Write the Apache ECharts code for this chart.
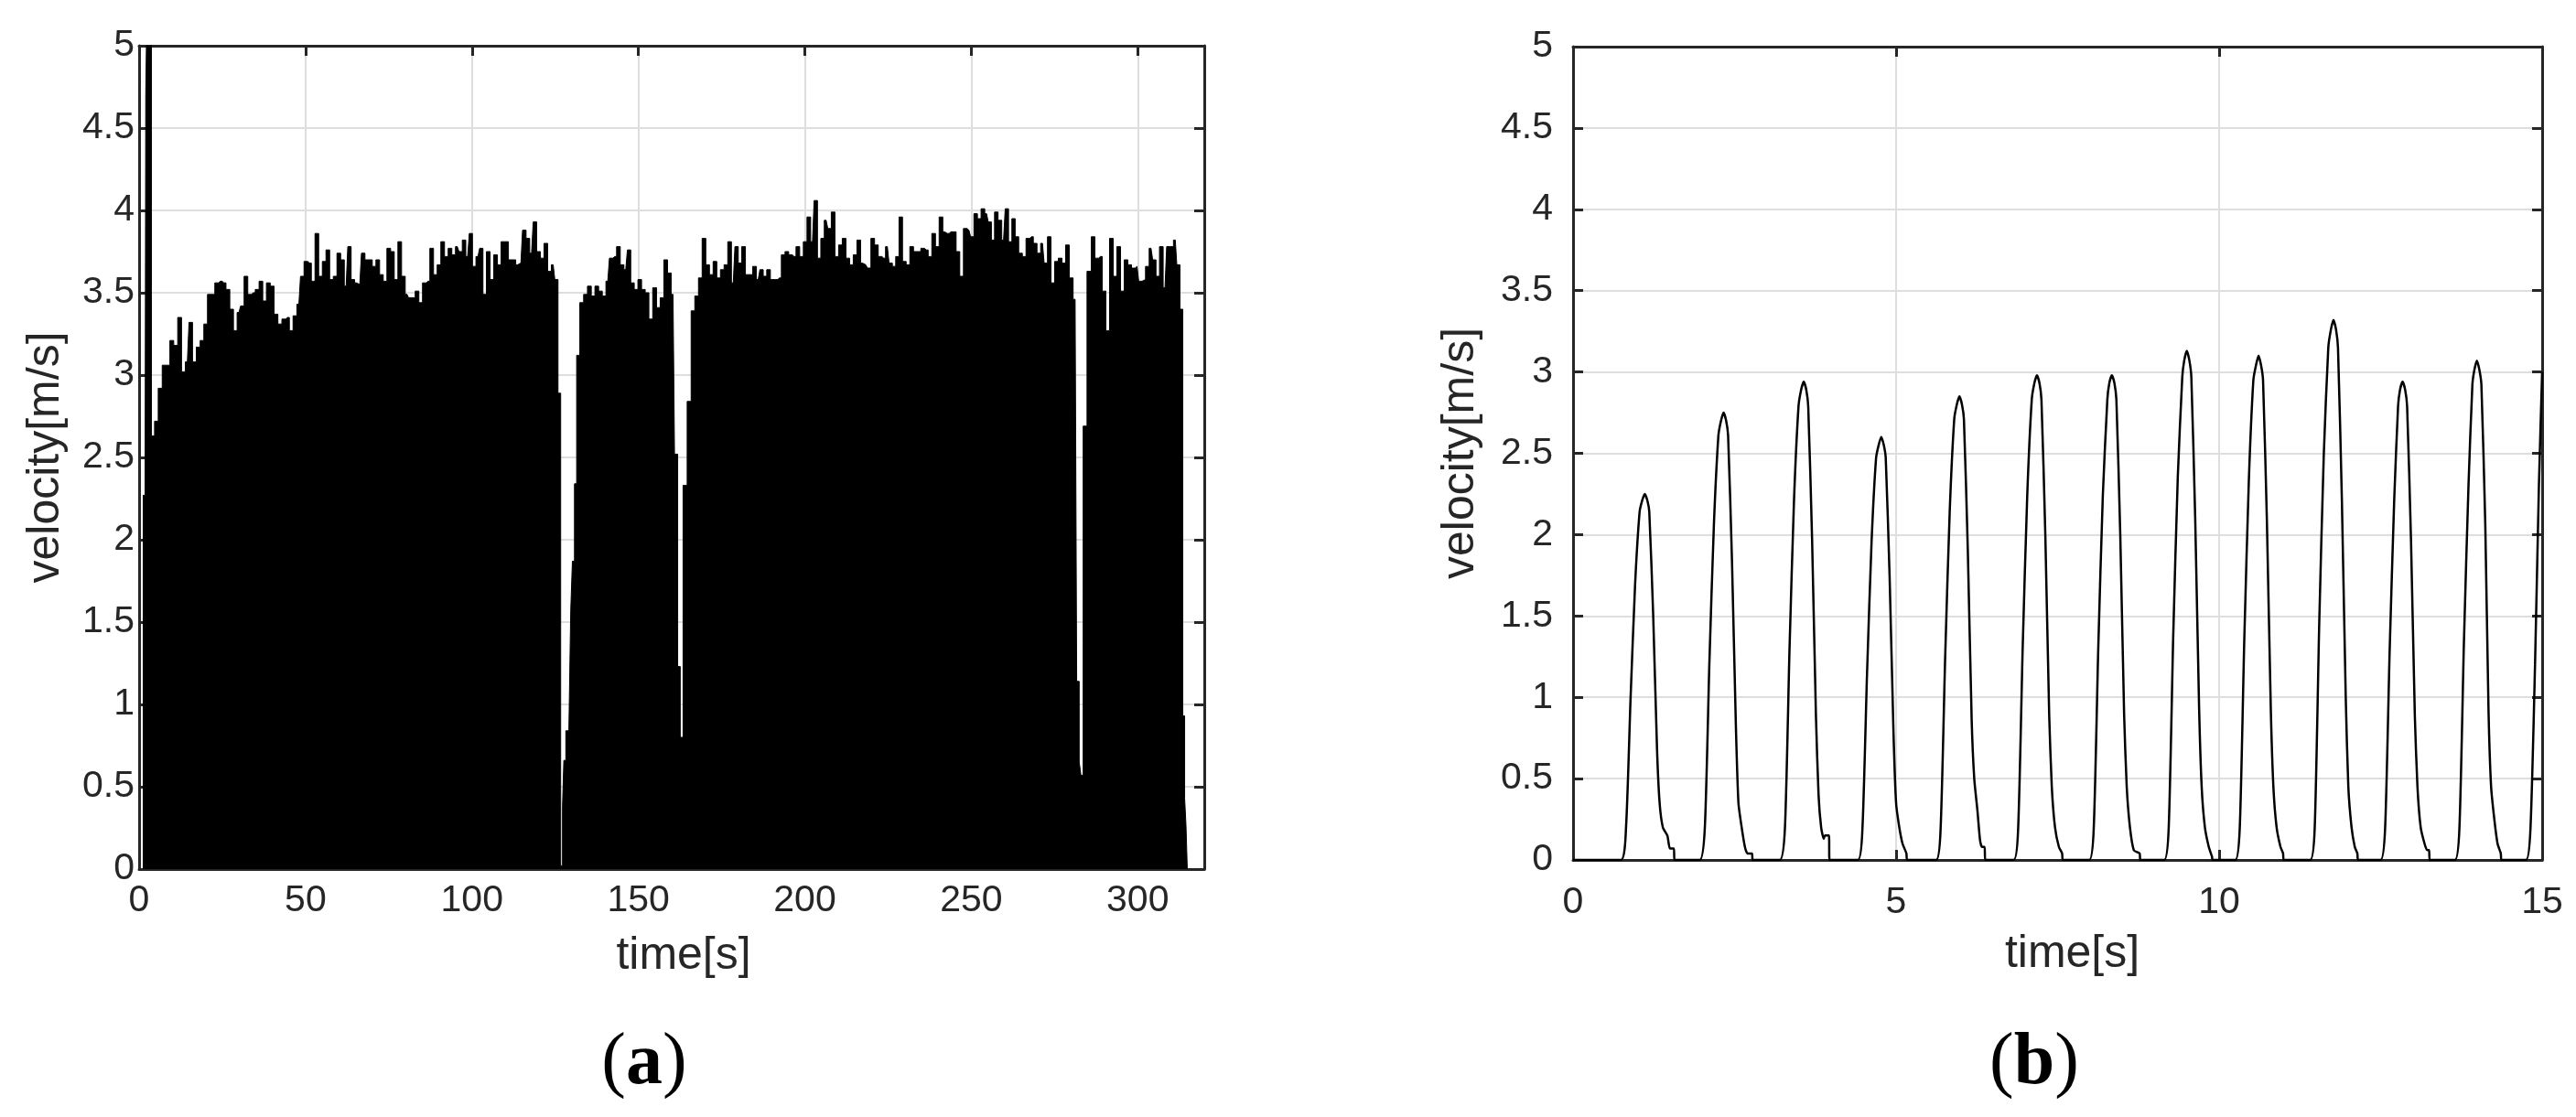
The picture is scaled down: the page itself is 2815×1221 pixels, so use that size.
<!DOCTYPE html>
<html>
<head>
<meta charset="utf-8">
<title>velocity</title>
<script src="https://cdn.jsdelivr.net/npm/echarts@6/dist/echarts.min.js"></script>
<style>
  html, body { margin: 0; background: #fff; }
  #chart { width: 2815px; height: 1221px; }
</style>
</head>
<body>
<div id="chart"></div>
<script>
// (a) whole run: one sample per stride peak (plus the stops)
const aTime = [
  1.1, 1.8, 2.2, 2.7, 3.3, 4.1, 5.2, 6.3, 7.6, 8.7,
  9.8, 11.0, 12.2, 13.3, 14.5, 15.5, 16.6, 17.8, 18.9, 20.0,
  21.1, 22.2, 23.3, 24.4, 25.5, 26.7, 27.8, 28.9, 30.0, 31.0,
  32.1, 33.2, 34.3, 35.5, 36.6, 37.7, 38.8, 40.0, 41.1, 42.3,
  43.5, 44.6, 45.7, 46.8, 48.0, 49.0, 50.1, 51.2, 52.3, 53.4,
  54.5, 55.6, 56.7, 57.8, 58.9, 60.0, 61.1, 62.2, 63.2, 64.2,
  65.3, 66.3, 67.3, 68.4, 69.5, 70.6, 71.7, 72.8, 73.9, 75.0,
  76.1, 77.2, 78.3, 79.4, 80.5, 81.4, 82.4, 83.5, 84.6, 85.7,
  86.8, 87.9, 89.0, 90.1, 91.2, 92.3, 93.4, 94.5, 95.6, 96.6,
  97.6, 98.7, 99.7, 100.6, 101.8, 102.8, 103.8, 104.9, 106.0, 107.1,
  108.2, 109.3, 110.4, 111.5, 112.6, 113.7, 114.7, 115.7, 116.8, 117.9,
  118.9, 120.0, 121.1, 122.2, 123.3, 124.4, 125.4, 126.3, 127.0, 127.4,
  127.8, 128.6, 129.5, 129.85, 130.5, 131.1, 131.8, 133.0, 134.1, 135.3,
  136.4, 137.5, 138.6, 139.7, 140.8, 141.8, 142.9, 144.0, 145.1, 146.2,
  147.2, 148.2, 149.3, 150.4, 151.5, 152.6, 153.7, 154.9, 156.0, 157.1,
  158.2, 159.3, 160.4, 161.3, 162.3, 162.85, 164.0, 165.3, 166.4, 167.5,
  168.6, 169.7, 170.8, 171.9, 173.0, 174.1, 175.2, 176.3, 177.4, 178.5,
  179.5, 180.5, 181.6, 182.7, 183.8, 184.9, 186.0, 187.0, 188.0, 189.1,
  190.2, 191.3, 192.4, 193.5, 194.6, 195.7, 196.8, 197.9, 199.0, 200.1,
  201.2, 202.3, 203.3, 204.3, 205.3, 206.4, 207.4, 208.5, 209.6, 210.7,
  211.8, 212.9, 214.0, 215.1, 216.2, 217.3, 218.3, 219.3, 220.4, 221.5,
  222.6, 223.7, 224.8, 225.8, 226.8, 227.8, 228.8, 229.9, 231.0, 232.1,
  233.2, 234.3, 235.4, 236.5, 237.6, 238.7, 239.8, 240.9, 242.0, 242.8,
  243.9, 244.9, 246.0, 247.1, 248.2, 249.3, 250.3, 251.3, 252.4, 253.5,
  254.6, 255.6, 256.5, 257.5, 258.6, 259.7, 260.7, 261.7, 262.7, 263.7,
  264.8, 265.9, 267.0, 268.1, 269.2, 270.3, 271.4, 272.4, 273.4, 274.5,
  275.6, 276.7, 277.8, 278.9, 280.0, 281.2, 282.15, 282.7, 283.2, 284.05,
  285.5, 286.6, 287.7, 288.8, 289.9, 291.0, 292.1, 293.2, 294.3, 295.4,
  296.5, 297.6, 298.7, 299.8, 300.8, 301.8, 302.9, 304.0, 305.0, 306.0,
  307.1, 308.2, 309.2, 310.2, 311.3, 312.2, 313.2, 313.9, 314.3, 314.7,
  315.1
]
const aVelocity = [
  2.27, 2.27, 4.7, 5.4, 5.4, 2.63, 2.72, 2.92, 3.06, 3.06,
  3.21, 3.18, 3.35, 3.02, 3.08, 3.32, 3.08, 3.17, 3.21, 3.31,
  3.49, 3.49, 3.56, 3.57, 3.56, 3.52, 3.40, 3.27, 3.38, 3.42,
  3.60, 3.49, 3.50, 3.52, 3.57, 3.45, 3.56, 3.54, 3.37, 3.31,
  3.34, 3.35, 3.27, 3.36, 3.43, 3.60, 3.69, 3.68, 3.57, 3.86,
  3.60, 3.69, 3.76, 3.58, 3.60, 3.74, 3.70, 3.54, 3.78, 3.58,
  3.56, 3.55, 3.74, 3.70, 3.70, 3.66, 3.70, 3.61, 3.57, 3.77,
  3.75, 3.58, 3.81, 3.60, 3.49, 3.47, 3.47, 3.51, 3.44, 3.56,
  3.57, 3.77, 3.61, 3.67, 3.81, 3.72, 3.77, 3.73, 3.78, 3.75,
  3.82, 3.72, 3.86, 3.66, 3.72, 3.77, 3.49, 3.75, 3.58, 3.73,
  3.67, 3.81, 3.81, 3.70, 3.70, 3.67, 3.68, 3.88, 3.83, 3.74,
  3.93, 3.75, 3.71, 3.80, 3.63, 3.67, 3.58, 2.89, 0.02, 0.38,
  0.66, 0.84, 0.76, 1.57, 1.87, 2.34, 3.12, 3.44, 3.49, 3.54,
  3.48, 3.54, 3.51, 3.48, 3.57, 3.71, 3.72, 3.78, 3.67, 3.64,
  3.76, 3.56, 3.52, 3.58, 3.52, 3.50, 3.34, 3.53, 3.41, 3.47,
  3.70, 3.62, 3.49, 2.52, 1.23, 0.80, 2.33, 2.84, 3.39, 3.48,
  3.59, 3.83, 3.67, 3.61, 3.69, 3.59, 3.64, 3.67, 3.81, 3.56,
  3.78, 3.68, 3.78, 3.61, 3.61, 3.66, 3.58, 3.64, 3.60, 3.64,
  3.58, 3.58, 3.59, 3.73, 3.75, 3.73, 3.72, 3.78, 3.72, 3.81,
  3.96, 3.81, 4.06, 3.71, 3.83, 3.94, 3.89, 3.99, 3.72, 3.79,
  3.83, 3.71, 3.67, 3.73, 3.82, 3.68, 3.67, 3.65, 3.83, 3.79,
  3.72, 3.71, 3.78, 3.68, 3.66, 3.72, 3.96, 3.69, 3.67, 3.78,
  3.75, 3.75, 3.77, 3.76, 3.72, 3.86, 3.78, 3.96, 3.87, 3.86,
  3.87, 3.87, 3.75, 3.60, 3.89, 3.88, 3.84, 3.98, 3.95, 4.01,
  3.98, 3.93, 3.82, 3.99, 3.94, 3.82, 4.01, 3.81, 3.95, 3.84,
  3.74, 3.72, 3.83, 3.84, 3.80, 3.74, 3.80, 3.68, 3.84, 3.56,
  3.69, 3.71, 3.68, 3.79, 3.59, 3.46, 1.14, 0.65, 0.57, 2.69,
  3.63, 3.84, 3.71, 3.72, 3.51, 3.27, 3.83, 3.60, 3.78, 3.51,
  3.70, 3.67, 3.65, 3.66, 3.57, 3.58, 3.66, 3.77, 3.70, 3.60,
  3.78, 3.53, 3.78, 3.78, 3.82, 3.67, 3.40, 0.93, 0.43, 0.27,
  0
]

// (b) first 15 s, one row per stride
const bTime = [
  0,
  0.74, 0.82, 0.89, 0.96, 1.03, 1.07, 1.11, 1.15, 1.18, 1.24, 1.30, 1.34, 1.39, 1.46, 1.50, 1.56, 1.57,
  1.96, 2.04, 2.11, 2.18, 2.25, 2.29, 2.33, 2.37, 2.40, 2.46, 2.52, 2.56, 2.61, 2.66, 2.70, 2.77, 2.78,
  3.20, 3.28, 3.35, 3.42, 3.49, 3.53, 3.57, 3.61, 3.64, 3.70, 3.76, 3.80, 3.84, 3.88, 3.90, 3.96, 3.97,
  4.41, 4.48, 4.55, 4.62, 4.69, 4.73, 4.77, 4.81, 4.84, 4.90, 4.96, 5.00, 5.05, 5.10, 5.16, 5.17,
  5.62, 5.69, 5.76, 5.83, 5.90, 5.94, 5.98, 6.02, 6.05, 6.11, 6.17, 6.21, 6.26, 6.30, 6.33, 6.37, 6.38,
  6.82, 6.89, 6.96, 7.03, 7.10, 7.14, 7.18, 7.22, 7.25, 7.31, 7.37, 7.41, 7.46, 7.52, 7.57, 7.58,
  7.99, 8.06, 8.13, 8.20, 8.27, 8.30, 8.34, 8.38, 8.41, 8.47, 8.53, 8.57, 8.62, 8.68, 8.77, 8.78,
  9.15, 9.22, 9.29, 9.36, 9.43, 9.46, 9.50, 9.54, 9.57, 9.63, 9.69, 9.73, 9.78, 9.84, 9.89, 9.90,
  10.25, 10.32, 10.39, 10.46, 10.53, 10.57, 10.61, 10.65, 10.68, 10.74, 10.80, 10.84, 10.89, 10.95, 10.99, 11.00,
  11.41, 11.48, 11.55, 11.62, 11.69, 11.73, 11.77, 11.81, 11.84, 11.90, 11.96, 12.00, 12.05, 12.10, 12.14, 12.15,
  12.50, 12.57, 12.64, 12.71, 12.77, 12.80, 12.84, 12.88, 12.91, 12.97, 13.03, 13.07, 13.12, 13.18, 13.22, 13.25, 13.26,
  13.65, 13.72, 13.79, 13.86, 13.92, 13.95, 13.99, 14.03, 14.06, 14.12, 14.17, 14.21, 14.26, 14.31, 14.36, 14.37,
  14.75, 14.82, 14.89, 14.95, 15.0
]
const bVelocity = [
  0,
  0, 0.2, 0.99, 1.69, 2.14, 2.21, 2.25, 2.21, 2.14, 1.51, 0.68, 0.35, 0.2, 0.15, 0.07, 0.07, 0,
  0, 0.2, 1.21, 2.06, 2.61, 2.70, 2.75, 2.70, 2.61, 1.84, 0.83, 0.35, 0.2, 0.08, 0.04, 0.04, 0,
  0, 0.2, 1.29, 2.21, 2.79, 2.89, 2.94, 2.89, 2.79, 1.97, 0.88, 0.4, 0.2, 0.13, 0.15, 0.15, 0,
  0, 0.2, 1.14, 1.95, 2.47, 2.55, 2.60, 2.55, 2.47, 1.74, 0.78, 0.35, 0.2, 0.1, 0.04, 0,
  0, 0.2, 1.25, 2.14, 2.71, 2.80, 2.85, 2.80, 2.71, 1.91, 0.86, 0.5, 0.3, 0.12, 0.08, 0.08, 0,
  0, 0.2, 1.31, 2.24, 2.83, 2.93, 2.98, 2.93, 2.83, 2.0, 0.89, 0.45, 0.2, 0.08, 0.04, 0,
  0, 0.2, 1.31, 2.24, 2.83, 2.93, 2.98, 2.93, 2.83, 2.0, 0.89, 0.45, 0.2, 0.06, 0.04, 0,
  0, 0.2, 1.38, 2.35, 2.97, 3.07, 3.13, 3.07, 2.97, 2.1, 0.94, 0.45, 0.2, 0.08, 0.02, 0,
  0, 0.2, 1.36, 2.33, 2.95, 3.04, 3.10, 3.04, 2.95, 2.08, 0.93, 0.45, 0.2, 0.08, 0.04, 0,
  0, 0.2, 1.46, 2.49, 3.15, 3.26, 3.32, 3.26, 3.15, 2.22, 1.0, 0.45, 0.2, 0.08, 0.04, 0,
  0, 0.2, 1.29, 2.21, 2.79, 2.89, 2.94, 2.89, 2.79, 1.97, 0.88, 0.45, 0.2, 0.1, 0.06, 0.06, 0,
  0, 0.2, 1.35, 2.30, 2.92, 3.01, 3.07, 3.01, 2.92, 2.06, 0.92, 0.45, 0.25, 0.1, 0.04, 0,
  0, 0.2, 1.2, 2.3, 3.0
]

const axisColor = '#262626'
const gridColor = '#dedede'
const font = '"Liberation Sans", Arial, sans-serif'
const serif = '"Liberation Serif", "Times New Roman", serif'

function xAxes (gridIndex, max, interval, labelMargin, nameGap, nameShift, showMax) {
  let tick = { inside: true, length: 11, lineStyle: { color: axisColor, width: 3 } }
  let line = { onZero: false, lineStyle: { color: axisColor, width: 3 } }
  return [{
    type: 'value', gridIndex: gridIndex, position: 'bottom',
    min: 0, max: max, interval: interval,
    name: 'time[s]', nameLocation: 'middle', nameGap: nameGap,
    nameTextStyle: { fontSize: 50, color: axisColor, fontFamily: font, padding: [0, 0, 0, nameShift * 2] },
    axisLine: line, axisTick: tick,
    axisLabel: { margin: labelMargin, fontSize: 41, color: axisColor, fontFamily: font, showMaxLabel: showMax },
    splitLine: { show: true, lineStyle: { color: gridColor, width: 2 } }
  }, {
    type: 'value', gridIndex: gridIndex, position: 'top',
    min: 0, max: max, interval: interval,
    axisLine: line, axisTick: tick,
    axisLabel: { show: false }, splitLine: { show: false }
  }]
}

function yAxes (gridIndex, labelMargin, nameGap) {
  let tick = { inside: true, length: 11, lineStyle: { color: axisColor, width: 3 } }
  let line = { onZero: false, lineStyle: { color: axisColor, width: 3 } }
  return [{
    type: 'value', gridIndex: gridIndex, position: 'left',
    min: 0, max: 5, interval: 0.5,
    name: 'velocity[m/s]', nameLocation: 'middle', nameGap: nameGap,
    nameTextStyle: { fontSize: 50, color: axisColor, fontFamily: font },
    axisLine: line, axisTick: tick,
    axisLabel: { margin: labelMargin, fontSize: 41, color: axisColor, fontFamily: font },
    splitLine: { show: true, lineStyle: { color: gridColor, width: 2 } }
  }, {
    type: 'value', gridIndex: gridIndex, position: 'right',
    min: 0, max: 5, interval: 0.5,
    axisLine: line, axisTick: tick,
    axisLabel: { show: false }, splitLine: { show: false }
  }]
}

function caption (letter, x) {
  return {
    type: 'text', x: x, y: 1163,
    style: {
      text: '{p|(}{b|' + letter + '}{p|)}',
      align: 'center', verticalAlign: 'middle',
      rich: {
        p: { fontFamily: serif, fontSize: 80, fontWeight: 'normal', fill: '#000' },
        b: { fontFamily: serif, fontSize: 80, fontWeight: 'bold', fill: '#000' }
      }
    }
  }
}

let myChart = echarts.init(document.getElementById('chart'), null, { renderer: 'canvas' })
let option = {
  animation: false,
  backgroundColor: '#fff',
  grid: [
    { left: 152, top: 50, width: 1164, height: 900 },
    { left: 1719, top: 51, width: 1059, height: 889 }
  ],
  xAxis: [].concat(xAxes(0, 320, 50, 14, 70, 13, false), xAxes(1, 15, 5, 26, 78, 16, true)),
  yAxis: [].concat(yAxes(0, 5, 77), yAxes(1, 22, 98)),
  graphic: [caption('a', 704), caption('b', 2223)],
  series: [
    {
      name: 'a',
      type: 'line',
      xAxisIndex: 0,
      yAxisIndex: 0,
      data: aTime.map((t, i) => [t, aVelocity[i]]),
      step: 'middle',
      symbol: 'none',
      lineStyle: { color: '#000', width: 1 },
      areaStyle: { color: '#000', opacity: 1 }
    },
    {
      name: 'b',
      type: 'line',
      xAxisIndex: 2,
      yAxisIndex: 2,
      data: bTime.map((t, i) => [t, bVelocity[i]]),
      smooth: 0.2,
      symbol: 'none',
      lineStyle: { color: '#000', width: 2.5 }
    }
  ]
}
myChart.setOption(option)
</script>
</body>
</html>
